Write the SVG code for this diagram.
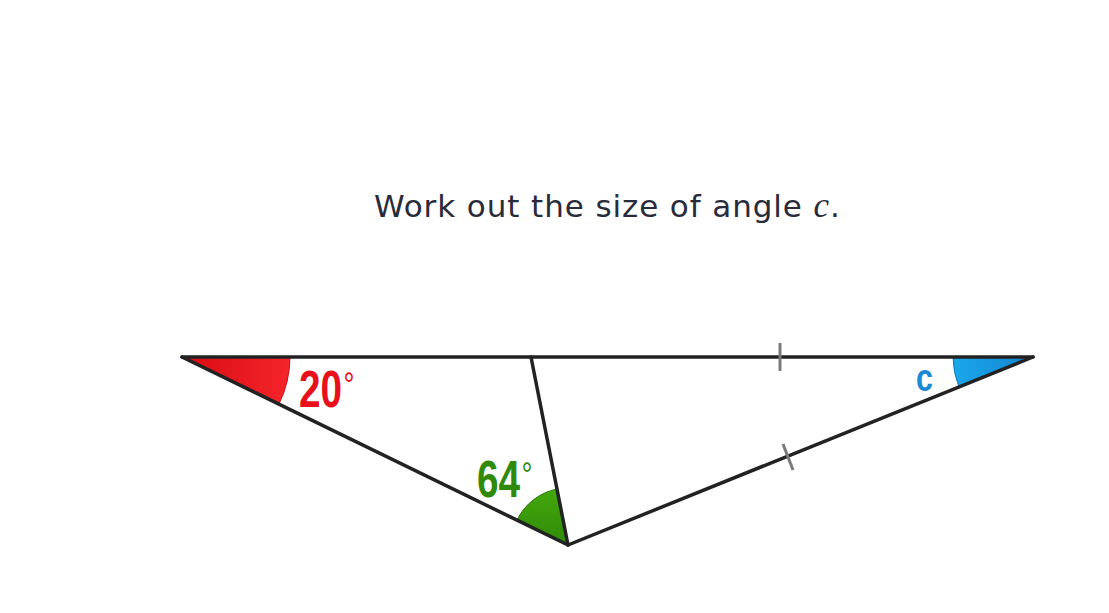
<svg xmlns="http://www.w3.org/2000/svg" width="1109" height="613" viewBox="0 0 1109 613">
<style>
.edge{stroke:#222;stroke-width:3.5;stroke-linecap:round;fill:none}
.tick{stroke:#7a7a7a;stroke-width:3}
.lbl{font-family:"Liberation Sans",Arial,sans-serif;font-weight:bold}
.deg{font-weight:normal;font-size:36px}
</style>
<defs>
<linearGradient id="gr" x1="0" y1="0" x2="1" y2="0"><stop offset="0" stop-color="#d80c14"/><stop offset="1" stop-color="#f5252a"/></linearGradient>
<linearGradient id="gg" x1="0" y1="0" x2="0" y2="1"><stop offset="0" stop-color="#45a80e"/><stop offset="1" stop-color="#2f8a06"/></linearGradient>
<linearGradient id="gb" x1="0" y1="0" x2="1" y2="0"><stop offset="0" stop-color="#1aa8ea"/><stop offset="1" stop-color="#1484d0"/></linearGradient>
</defs>
<rect width="1109" height="613" fill="#fff"/>
<text x="374" y="217" font-family="'DejaVu Sans','Liberation Sans',sans-serif" font-size="31" letter-spacing="0.9" fill="#2a2b3a">Work out the size of angle <tspan font-family="'Liberation Serif',serif" font-style="italic" font-size="35">c</tspan>.</text>
<g id="angleA">
<path d="M182,357 L290,357 A108,108 0 0 1 279,404 Z" fill="url(#gr)" stroke="#c8101a" stroke-width="1"/>
<text class="lbl" transform="translate(299,407) scale(0.76,1)" font-size="51" fill="#e8101a">20<tspan class="deg" dx="2" dy="-10">°</tspan></text>
</g>
<g id="angleC">
<path d="M568,545 L517,520 A57,57 0 0 1 557,489 Z" fill="url(#gg)" stroke="#2a7a05" stroke-width="1"/>
<text class="lbl" transform="translate(477,497) scale(0.76,1)" font-size="51" fill="#2f8a0a">64<tspan class="deg" dx="2" dy="-10">°</tspan></text>
</g>
<g id="angleB">
<path d="M1033,357 L953,357 A80,80 0 0 0 959,387 Z" fill="url(#gb)" stroke="#0f78c0" stroke-width="1"/>
<text class="lbl" transform="translate(916,391) scale(0.8,1)" font-size="38" fill="#1a8ad4">c</text>
</g>
<g id="connectors">
<line class="edge" x1="182" y1="357" x2="1033" y2="357"/>
<line class="edge" x1="182" y1="357" x2="568" y2="545"/>
<line class="edge" x1="531" y1="357" x2="568" y2="545"/>
<line class="edge" x1="568" y1="545" x2="1033" y2="357"/>
<line class="tick" x1="780" y1="343" x2="780" y2="371"/>
<line class="tick" x1="783" y1="444" x2="793" y2="470"/>
</g>
</svg>
